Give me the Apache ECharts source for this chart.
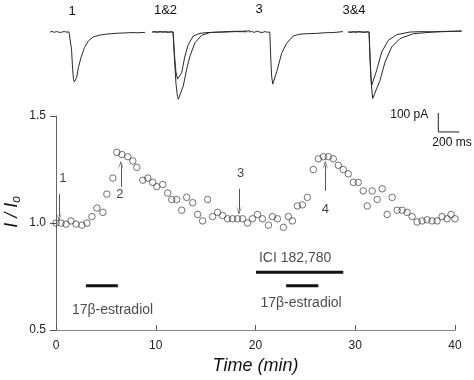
<!DOCTYPE html>
<html>
<head>
<meta charset="utf-8">
<script src="https://cdn.jsdelivr.net/npm/echarts@6/dist/echarts.min.js"></script>
<style>
html,body{margin:0;padding:0;background:#fff;}
#c{width:474px;height:380px;}
</style>
</head>
<body>
<div id="c"></div>
<script>
// ---- main time course (I/Io vs time, min) ----
const times = [0,0.5,1.0,1.5,2.0,2.6,3.1,3.6,4.1,4.7,5.1,5.7,6.1,6.6,7.2,7.7,8.1,8.7,9.2,9.7,10.1,10.7,11.2,11.6,12.1,12.6,13.1,13.7,14.2,14.7,15.2,15.7,16.2,16.7,17.2,17.7,18.2,18.7,19.2,19.7,20.2,20.7,21.3,21.7,22.2,22.8,23.3,23.7,24.2,24.7,25.2,25.8,26.3,26.8,27.3,27.8,28.3,28.8,29.3,29.8,30.3,30.8,31.2,31.7,32.2,32.7,33.2,33.7,34.2,34.7,35.2,35.7,36.2,36.7,37.2,37.7,38.2,38.7,39.2,39.6,40.0];
const ratio = [1.00,1.00,0.995,1.01,0.995,0.99,1.00,1.03,1.07,1.05,1.135,1.21,1.33,1.32,1.31,1.29,1.26,1.20,1.21,1.19,1.17,1.18,1.14,1.11,1.11,1.06,1.12,1.095,1.04,1.01,1.11,1.03,1.05,1.035,1.02,1.02,1.02,1.02,1.00,1.02,1.04,1.02,0.99,1.03,1.02,0.98,1.03,1.01,1.08,1.085,1.12,1.25,1.30,1.31,1.31,1.30,1.27,1.25,1.23,1.19,1.19,1.15,1.08,1.15,1.11,1.16,1.04,1.12,1.06,1.06,1.05,1.03,1.005,1.01,1.015,1.01,1.01,1.03,1.02,1.04,1.02];

// arrows marking sample points
const arrowNames = ['1','2','3','4'];
const arrowT = [0.3,6.5,18.35,27.0];
const arrowFrom = [1.135,1.17,1.16,1.15];
const arrowTo = [1.03,1.27,1.06,1.27];
const arrowLabelT = [0.7,6.4,18.5,27.0];
const arrowLabelY = [1.21,1.135,1.23,1.065];

// drug application bars
const barNames = ['17β-estradiol','ICI 182,780','17β-estradiol'];
const barStart = [3.0,20.05,23.07];
const barEnd = [6.2,28.8,26.3];
const barLevel = [0.707,0.77,0.707];
const barLabelT = [5.67,23.97,24.57];
const barLabelY = [0.595,0.838,0.626];

const xTicks = [0,10,20,30,40];
const yTicks = [0.5,1.0,1.5];

// ---- current traces (ms, pA) ----
const traceTitles = ['1','1&2','3','3&4'];
const tr1_t = [0,20,40,60,80,100,120,140,160,180,198,205,215,224,231,240,254,270,295,327,365,412,476,540,588,650,714,780,840,905];
const tr1_v = [0,3,-2,2,0,-3,1,2,-1,1,0,-90,-190,-250,-263,-258,-240,-188,-135,-83,-47,-26,-16,-11,-9,-6,-5,-3,-4,-2];
const tr12a_t = [0,25,50,75,100,125,150,175,198,210,225,240,248,258,280,311,343,390,454,520,600,700,800,900];
const tr12a_v = [0,2,-1,3,0,2,-2,1,0,-110,-210,-248,-254,-245,-214,-126,-65,-21,-7,-3,-1,0,2,1];
const tr12b_t = [0,198,210,225,240,248,260,295,327,359,407,470,549,650,750,850,930];
const tr12b_v = [0,0,-130,-270,-340,-354,-348,-284,-196,-126,-56,-17,-3,0,3,4,6];
const tr3_t = [0,25,50,75,100,125,150,175,198,206,215,226,235,264,311,359,422,486,560,645,720,800,895];
const tr3_v = [0,3,-2,4,0,-3,2,-1,0,-120,-230,-274,-268,-209,-112,-59,-21,-11,-9,-7,-4,-3,2];
const tr34a_t = [0,25,50,75,100,125,150,175,198,205,215,223,232,270,318,381,461,588,700,800,900,1000,1080];
const tr34a_v = [0,-2,2,-1,3,0,-2,1,0,-120,-240,-281,-272,-202,-105,-44,-14,0,2,1,3,4,5];
const tr34b_t = [0,198,208,220,232,238,250,302,350,413,492,619,810,1080];
const tr34b_v = [0,0,-140,-280,-350,-360,-350,-255,-158,-79,-35,-9,0,5];
const scaleBarMs = 200, scaleBarPA = 100;

// ---------------------------------------------------------
const FONT = 'Liberation Sans, Arial, sans-serif';
const zip = (a,b) => a.map((v,i)=>[v,b[i]]);
const chart = echarts.init(document.getElementById('c'), null, {renderer:'canvas'});

const panelLeft = [50,152.3,249,348.3];
const grids = [{left:56,right:19,top:116,bottom:42}];
const xAxes = [{
  gridIndex:0,type:'value',min:xTicks[0],max:xTicks[xTicks.length-1],interval:10,
  axisLine:{show:true,lineStyle:{color:'#888',width:1}},
  axisTick:{show:true,inside:true,length:5,lineStyle:{color:'#555'}},
  axisLabel:{color:'#222',fontSize:12,fontFamily:FONT,margin:10},
  splitLine:{show:false},
  name:'Time (min)',nameLocation:'middle',nameGap:24,
  nameTextStyle:{fontSize:18,fontStyle:'italic',fontFamily:FONT,color:'#111'}
}];
const yAxes = [{
  gridIndex:0,type:'value',min:yTicks[0],max:yTicks[yTicks.length-1],interval:0.5,
  axisLine:{show:true,lineStyle:{color:'#666',width:1}},
  axisTick:{show:true,length:6,lineStyle:{color:'#555'}},
  axisLabel:{color:'#222',fontSize:12,fontFamily:FONT,margin:10,formatter:v=>v.toFixed(1)},
  splitLine:{show:false}
}];
panelLeft.forEach((l,i)=>{
  grids.push({left:l,top:24.4,width:115.5,height:83.6});
  xAxes.push({gridIndex:i+1,type:'value',min:0,max:1100,show:false});
  yAxes.push({gridIndex:i+1,type:'value',min:-400,max:40,show:false});
});

const traceStyle = {color:'#2a2a2a',width:1};
function traceSeries(g,t,v){
  return {type:'line',xAxisIndex:g,yAxisIndex:g,data:zip(t,v),symbol:'none',
    lineStyle:traceStyle,silent:true,animation:false,z:3};
}

const arrowPath = 'path://M0,10 L5,0 L10,10 L5,3 Z';
const series = [
  {type:'scatter',xAxisIndex:0,yAxisIndex:0,data:zip(times,ratio),symbol:'circle',symbolSize:6.5,
   itemStyle:{color:'rgba(255,255,255,0)',borderColor:'#3a3a3a',borderWidth:0.9},z:5,animation:false},
  ...barNames.map((n,i)=>({type:'line',xAxisIndex:0,yAxisIndex:0,
    data:[[barStart[i],barLevel[i]],[barEnd[i],barLevel[i]]],symbol:'none',
    lineStyle:{color:'#111',width:3},animation:false})),
  {type:'line',xAxisIndex:0,yAxisIndex:0,data:[],animation:false,
   markLine:{silent:true,symbol:['none',arrowPath],symbolSize:[6,9],animation:false,
     label:{show:false},lineStyle:{color:'#555',width:1,type:'solid'},
     data:arrowT.map((t,i)=>[{coord:[t,arrowFrom[i]]},{coord:[t,arrowTo[i]]}])}},
  {type:'scatter',xAxisIndex:0,yAxisIndex:0,symbolSize:0,animation:false,silent:true,
   label:{show:true,position:'inside',color:'#111',fontFamily:FONT,fontSize:13,formatter:'{b}'},
   data:[
     ...arrowNames.map((n,i)=>({name:n,value:[arrowLabelT[i],arrowLabelY[i]]})),
     ...barNames.map((n,i)=>({name:n,value:[barLabelT[i],barLabelY[i]],label:{fontSize:14,color:'#1a1a1a'}}))
   ]},
  traceSeries(1,tr1_t,tr1_v),
  traceSeries(2,tr12a_t,tr12a_v),
  traceSeries(2,tr12b_t,tr12b_v),
  traceSeries(3,tr3_t,tr3_v),
  traceSeries(4,tr34a_t,tr34a_v),
  traceSeries(4,tr34b_t,tr34b_v)
];

const titlePos = [[72,11],[165.5,10],[259,9],[354,10]];
const graphic = traceTitles.map((t,i)=>({type:'text',x:titlePos[i][0],y:titlePos[i][1],
  style:{text:t,fontSize:13,fontFamily:FONT,fill:'#111',align:'center',verticalAlign:'middle'}}));
graphic.push({type:'text',x:12,y:212,rotation:Math.PI/2,
  style:{text:'{a|I / I}{b|o}',align:'center',verticalAlign:'middle',
    rich:{a:{fontSize:18,fontStyle:'italic',fontFamily:FONT,fill:'#111'},
          b:{fontSize:12,fontStyle:'italic',fontFamily:FONT,fill:'#111',padding:[10,0,0,0]}}}});

chart.setOption({animation:false,backgroundColor:'#fff',grid:grids,xAxis:xAxes,yAxis:yAxes,series,graphic});

// scale bar anchored in panel 4 coordinates
const anchorMs = 857, anchorPA = -426;
const pTop = chart.convertToPixel({gridIndex:4},[anchorMs,anchorPA]);
const pBot = chart.convertToPixel({gridIndex:4},[anchorMs,anchorPA-scaleBarPA]);
const pRight = chart.convertToPixel({gridIndex:4},[anchorMs+scaleBarMs,anchorPA-scaleBarPA]);
graphic.push(
  {type:'polyline',shape:{points:[pTop,pBot,pRight]},style:{stroke:'#222',lineWidth:1,fill:null}},
  {type:'text',x:pTop[0]-10,y:pTop[1]+2,style:{text:scaleBarPA+' pA',fontSize:12,fontFamily:FONT,fill:'#111',align:'right',verticalAlign:'middle'}},
  {type:'text',x:pBot[0]-6,y:pBot[1]+11,style:{text:scaleBarMs+' ms',fontSize:12,fontFamily:FONT,fill:'#111',align:'left',verticalAlign:'middle'}}
);
chart.setOption({graphic},{replaceMerge:['graphic']});
</script>
</body>
</html>
